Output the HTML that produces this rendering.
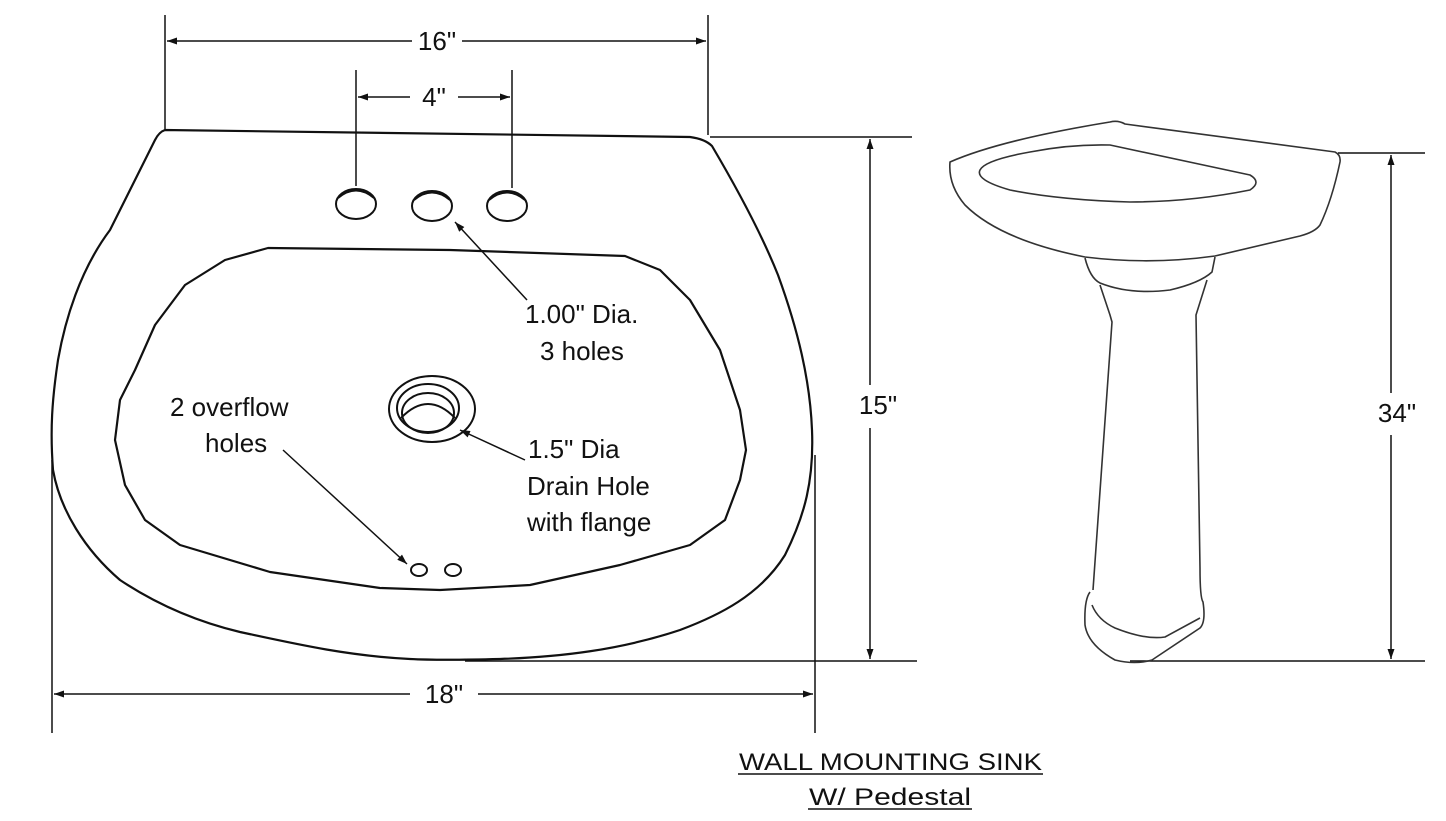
<!DOCTYPE html>
<html><head><style>
html,body{margin:0;padding:0;background:#fff;}
svg{display:block;}
text{font-family:"Liberation Sans",sans-serif;fill:#111;}
</style></head><body>
<svg width="1446" height="821" viewBox="0 0 1446 821" xmlns="http://www.w3.org/2000/svg">
<defs>
<marker id="a" viewBox="0 0 10 10" refX="10" refY="5" markerWidth="16" markerHeight="10" markerUnits="userSpaceOnUse" orient="auto-start-reverse"><path d="M0,1.5 L10,5 L0,8.5 z" fill="#111"/></marker>
</defs>
<g fill="none" stroke="#111" stroke-width="2.2" stroke-linejoin="round">
<path d="M165,130 L690,137 Q705,139 712,146 C735,185 760,230 778,275 C798,330 810,380 812,430 C814,480 805,515 785,555 C760,595 720,615 680,630 C620,650 560,657 500,659 C460,660 430,660 410,659 C350,656 300,645 240,632 C190,620 150,600 120,580 C85,550 60,510 53,470 C50,430 52,400 58,360 C65,320 80,270 110,230 L155,140 Q159,132 165,130 Z"/>
<path d="M268,248 L450,250 L625,256 L660,270 L690,300 L720,350 L740,410 L746,450 L740,480 L725,520 L690,545 L620,565 L530,585 L440,590 L380,588 L270,572 L180,545 L145,520 L125,485 L115,440 L120,400 L135,370 L155,325 L185,285 L225,260 Z"/>
</g>
<g fill="none" stroke="#111" stroke-width="2">
<ellipse cx="356" cy="204" rx="20" ry="15"/><path d="M338,198 Q356,183 374,198"/>
<ellipse cx="432" cy="206" rx="20" ry="15"/><path d="M414,200 Q432,185 450,200"/>
<ellipse cx="507" cy="206" rx="20" ry="15"/><path d="M489,200 Q507,185 525,200"/>
<ellipse cx="432" cy="409" rx="43" ry="33"/>
<ellipse cx="428" cy="408" rx="31" ry="24"/>
<path d="M401,418 Q428,390 455,418"/>
<ellipse cx="428" cy="413" rx="26" ry="20"/>
<ellipse cx="419" cy="570" rx="8" ry="6"/><ellipse cx="453" cy="570" rx="8" ry="6"/>
</g>
<g stroke="#111" stroke-width="1.5" fill="none">
<line x1="165" y1="15" x2="165" y2="130"/><line x1="708" y1="15" x2="708" y2="135"/>
<line x1="167" y1="41" x2="412" y2="41" marker-start="url(#a)"/><line x1="462" y1="41" x2="706" y2="41" marker-end="url(#a)"/>
<line x1="356" y1="70" x2="356" y2="186"/><line x1="512" y1="70" x2="512" y2="188"/>
<line x1="358" y1="97" x2="410" y2="97" marker-start="url(#a)"/><line x1="458" y1="97" x2="510" y2="97" marker-end="url(#a)"/>
<line x1="710" y1="137" x2="912" y2="137"/><line x1="465" y1="661" x2="917" y2="661"/>
<line x1="870" y1="139" x2="870" y2="385" marker-start="url(#a)"/><line x1="870" y1="428" x2="870" y2="659" marker-end="url(#a)"/>
<line x1="52" y1="460" x2="52" y2="733"/><line x1="815" y1="455" x2="815" y2="733"/>
<line x1="54" y1="694" x2="410" y2="694" marker-start="url(#a)"/><line x1="478" y1="694" x2="813" y2="694" marker-end="url(#a)"/>
<line x1="1338" y1="153" x2="1425" y2="153"/><line x1="1130" y1="661" x2="1425" y2="661"/>
<line x1="1391" y1="155" x2="1391" y2="393" marker-start="url(#a)"/><line x1="1391" y1="435" x2="1391" y2="659" marker-end="url(#a)"/>
<line x1="527" y1="300" x2="455" y2="222" marker-end="url(#a)"/>
<line x1="525" y1="460" x2="460" y2="430" marker-end="url(#a)"/>
<line x1="283" y1="450" x2="407" y2="564" marker-end="url(#a)"/>
</g>
<g fill="none" stroke="#333" stroke-width="1.6" stroke-linejoin="round">
<path d="M950,162 Q1000,140 1110,122 Q1118,120 1125,124 L1335,152 Q1341,155 1340,162 Q1332,200 1320,225 Q1315,232 1300,236 L1215,256 Q1150,265 1085,257 Q1000,240 965,205 Q948,185 950,162 Z"/>
<path d="M980,170 Q985,160 1030,152 Q1070,144 1110,145 L1250,175 Q1262,182 1250,190 Q1190,202 1130,202 Q1060,200 1010,190 Q975,180 980,170 Z"/>
<path d="M1085,258 Q1090,278 1100,283 Q1130,295 1170,290 Q1200,283 1212,272 L1215,257"/>
<path d="M1100,285 L1110,315 L1112,322 L1093,590"/>
<path d="M1207,280 L1196,315 L1200,568"/>
<path d="M1090,592 Q1084,600 1085,625 Q1088,645 1115,660 Q1135,665 1152,660 L1200,628 Q1206,622 1203,602 Q1200,598 1200,568"/>
<path d="M1092,605 Q1098,620 1115,628 Q1145,640 1165,637 L1200,618"/>
</g>
<g font-size="26">
<text x="437" y="50" text-anchor="middle">16"</text>
<text x="434" y="106" text-anchor="middle">4"</text>
<text x="878" y="414" text-anchor="middle">15"</text>
<text x="444" y="703" text-anchor="middle">18"</text>
<text x="1397" y="422" text-anchor="middle">34"</text>
<text x="525" y="323">1.00" Dia.</text>
<text x="540" y="360">3 holes</text>
<text x="170" y="416">2 overflow</text>
<text x="205" y="452">holes</text>
<text x="528" y="458">1.5" Dia</text>
<text x="527" y="495">Drain Hole</text>
<text x="527" y="531">with flange</text>
</g>
<g font-size="24">
<text x="739" y="770" textLength="303" lengthAdjust="spacingAndGlyphs">WALL MOUNTING SINK</text>
<text x="809" y="805" textLength="162" lengthAdjust="spacingAndGlyphs">W/ Pedestal</text>
</g>
<line x1="738" y1="774" x2="1043" y2="774" stroke="#111" stroke-width="1.5"/>
<line x1="808" y1="809" x2="972" y2="809" stroke="#111" stroke-width="1.5"/>
</svg>
</body></html>
